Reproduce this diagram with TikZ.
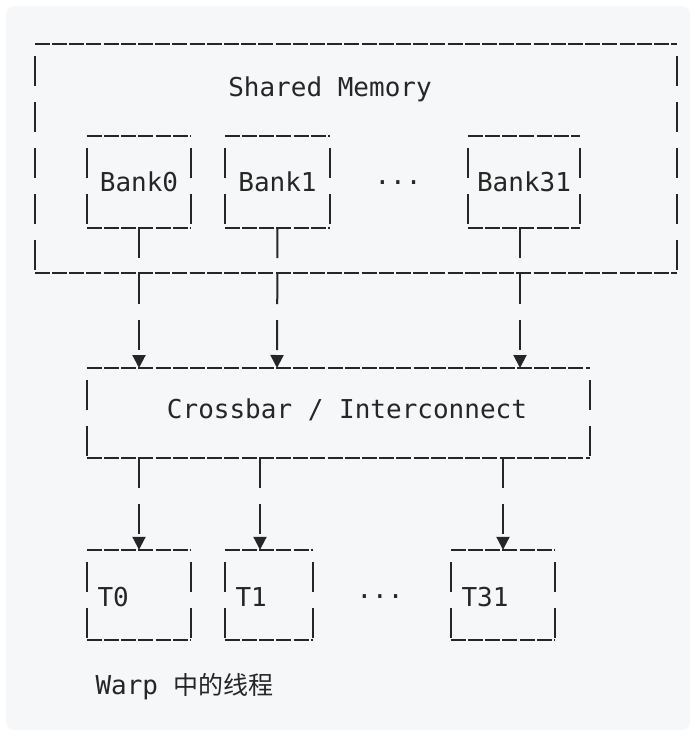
\documentclass[tikz,border=0pt]{standalone}
\usepackage{fontspec}
\setmonofont{DejaVu Sans Mono}
\newfontfamily\cjk{Noto Sans CJK SC}
\usetikzlibrary{arrows.meta}
\tikzset{
  lbl/.style={font=\ttfamily\fontsize{26}{30}\selectfont, text=black!85},
  hl/.style={line width=2pt, black!85, dash pattern=on 15pt off 2.2pt},
  vl/.style={line width=2pt, black!85, dash pattern=on 30pt off 16pt},
  bx/.style={inner sep=0pt, minimum width=#1},
  conn/.style={line width=2pt, black!85, dash pattern=on 30pt off 16pt,
    -{Triangle[length=13pt,width=13pt]}},
}
\newcommand\asciibox[1]{%
  \draw[hl] (#1.north west) -- (#1.north east);
  \draw[hl] (#1.south west) -- (#1.south east);
  \draw[vl] ([yshift=-12pt]#1.north west) -- (#1.south west);
  \draw[vl] ([yshift=-12pt]#1.north east) -- (#1.south east);}
\begin{document}
\begin{tikzpicture}[x=1pt,y=-1pt]
\useasboundingbox (0,0) rectangle (694,736);
\fill[rounded corners=8pt, fill={rgb,255:red,246;green,247;blue,248}] (6,6) rectangle (690,730);
% shared memory
\node[bx, minimum width=642pt, minimum height=229pt] (sm) at (356,158.5) {};
\asciibox{sm}
\node[lbl] (smt) at (330,89) {Shared Memory};
\node[bx, minimum width=104pt, minimum height=92pt] (b0) at (139,182) {};
\node[bx, minimum width=105pt, minimum height=92pt] (b1) at (277.5,182) {};
\node[bx, minimum width=112pt, minimum height=92pt] (b31) at (524,182) {};
\asciibox{b0}\asciibox{b1}\asciibox{b31}
\node[lbl] at (b0) {Bank0};
\node[lbl] at (b1) {Bank1};
\node[lbl] at (b31) {Bank31};
\node[lbl] (dots1) at (398,183) {...};
% crossbar
\node[bx, minimum width=503pt, minimum height=90pt] (cb) at (338.5,413) {};
\asciibox{cb}
\node[lbl] at (347,410) {Crossbar / Interconnect};
\coordinate (c0) at (139,368); \coordinate (c1) at (277,368); \coordinate (c2) at (520,368);
\draw[conn] (b0.south) -- (c0);
\draw[conn] (b1.south) -- (c1);
\draw[conn] ([xshift=-4pt]b31.south) -- (c2);
% threads
\node[bx, minimum width=104pt, minimum height=90pt] (t0) at (139,595) {};
\node[bx, minimum width=88pt, minimum height=90pt] (t1) at (269,595) {};
\node[bx, minimum width=104pt, minimum height=90pt] (t31) at (503,595) {};
\asciibox{t0}\asciibox{t1}\asciibox{t31}
\node[lbl, anchor=west] at (94,597) {T0};
\node[lbl, anchor=west] at (232,597) {T1};
\node[lbl, anchor=west] at (458,597) {T31};
\node[lbl] (dots2) at (380,597) {...};
\draw[conn] (139,458) -- (t0.north);
\draw[conn] (260,458) -- ([xshift=-9pt]t1.north);
\draw[conn] (503,458) -- (t31.north);
\node[lbl, anchor=west] (warp) at (92,687) {Warp {\cjk\fontsize{25}{30}\selectfont 中的线程}};
\end{tikzpicture}
\end{document}
